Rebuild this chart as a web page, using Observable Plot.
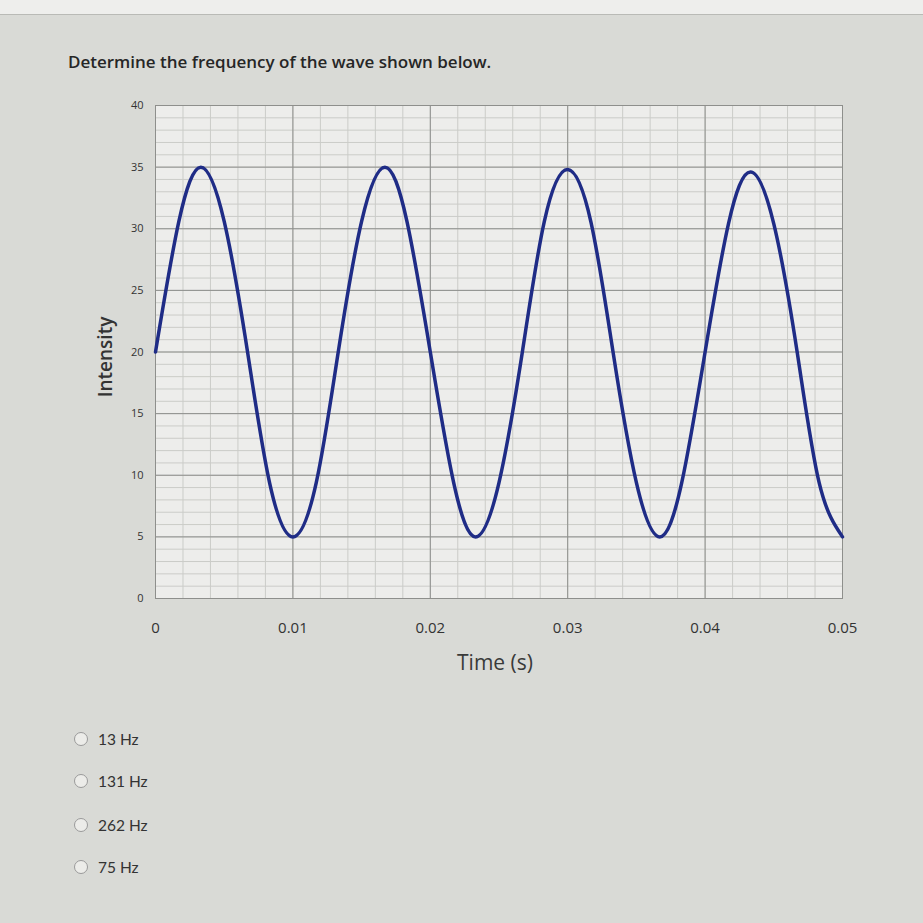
<!DOCTYPE html>
<html>
<head>
<meta charset="utf-8">
<script src="https://cdn.jsdelivr.net/npm/d3@7"></script>
<script src="https://cdn.jsdelivr.net/npm/@observablehq/plot@0.6"></script>
<style>
  html, body { margin: 0; padding: 0; }
  body { width: 923px; height: 923px; background: #d9dad6; position: relative; overflow: hidden; font-family: Lato, "Open Sans", sans-serif; }
  #topbar { position: absolute; left: 0; top: 0; width: 923px; height: 14px; background: #eeeeec; border-bottom: 1px solid #b9bab6; }
  #title { position: absolute; left: 68px; top: 50px; font-size: 17px; font-weight: 600; color: #262626; font-family: "Open Sans", sans-serif; }
  #chart { position: absolute; left: 0; top: 0; }
  .axt { position: absolute; color: #333; font-family: "Open Sans", sans-serif; }
  #ylab { left: 105px; top: 357px; transform: translate(-50%, -50%) rotate(-90deg); font-weight: 600; font-size: 19px; }
  #xlab { left: 495px; top: 662px; transform: translate(-50%, -50%); font-size: 21px; font-weight: 400; color: #3a3a3a; }
  .opt { position: absolute; left: 74px; font-size: 15.5px; color: #333; display: flex; align-items: center; }
  .opt span.r { display: inline-block; width: 12px; height: 12px; border: 1px solid #9a9a9a; border-radius: 50%; background: #ecece9; margin-right: 10px; }
</style>
</head>
<body>
<div id="topbar"></div>
<div id="title">Determine the frequency of the wave shown below.</div>
<div id="chart"></div>
<div class="axt" id="ylab">Intensity</div>
<div class="axt" id="xlab">Time (s)</div>
<div id="opts"></div>
<script>
// Data
const time = [0, 0.0017, 0.0033, 0.005, 0.0067, 0.0083, 0.01, 0.0117, 0.0133, 0.015, 0.0167, 0.0183, 0.02, 0.0217, 0.0233, 0.025, 0.0267, 0.0283, 0.03, 0.0317, 0.0333, 0.035, 0.0367, 0.0383, 0.04, 0.0417, 0.0433, 0.045, 0.0467, 0.0483, 0.05];
const intensity = [20, 30.6, 35, 30.6, 20, 9.4, 5, 9.4, 20, 30.6, 35, 30.6, 20, 9.4, 5, 9.4, 20, 30.6, 34.8, 30.5, 20, 9.4, 5, 9.4, 20, 30.4, 34.6, 30.4, 20, 9.4, 5];
const xTicks = [0, 0.01, 0.02, 0.03, 0.04, 0.05];
const xTickLabels = ["0", "0.01", "0.02", "0.03", "0.04", "0.05"];
const yTicks = [0, 5, 10, 15, 20, 25, 30, 35, 40];
const options = ["13 Hz", "131 Hz", "262 Hz", "75 Hz"];
const optionTops = [740, 782, 826, 868];

const data = time.map((t, i) => ({t, v: intensity[i]}));
const xMinor = d3.range(0, 0.0501, 0.002);
const yMinor = d3.range(0, 40.01, 1);

const chart = Plot.plot({
  width: 923,
  height: 700,
  marginLeft: 155,
  marginRight: 81,
  marginTop: 105,
  marginBottom: 102,
  style: { background: "transparent", fontFamily: "'Open Sans', sans-serif", color: "#333" },
  x: { domain: [0, 0.05] },
  y: { domain: [0, 40] },
  marks: [
    Plot.rect([0], { x1: 0, x2: 0.05, y1: 0, y2: 40, fill: "#ededeb" }),
    Plot.ruleX(xMinor, { stroke: "#cbccc8", strokeWidth: 1 }),
    Plot.ruleY(yMinor, { stroke: "#cbccc8", strokeWidth: 1 }),
    Plot.ruleX(xTicks, { stroke: "#8e8f8c", strokeWidth: 1 }),
    Plot.ruleY(yTicks, { stroke: "#8e8f8c", strokeWidth: 1 }),
    Plot.frame({ stroke: "#8e8f8c" }),
    Plot.axisY({ ticks: yTicks, tickSize: 0, tickPadding: 12, fontSize: 11, label: null }),
    Plot.axisX({ ticks: xTicks, tickFormat: (d, i) => xTickLabels[i], tickSize: 0, tickPadding: 24, fontSize: 15, label: null }),
    Plot.line(data, { x: "t", y: "v", stroke: "#1f2c86", strokeWidth: 3.5, curve: "natural" })
  ]
});
document.getElementById("chart").appendChild(chart);

const opts = document.getElementById("opts");
options.forEach((o, i) => {
  const d = document.createElement("div");
  d.className = "opt";
  d.style.top = (optionTops[i] - 10) + "px";
  d.innerHTML = `<span class="r"></span>${o}`;
  opts.appendChild(d);
});
</script>
</body>
</html>
